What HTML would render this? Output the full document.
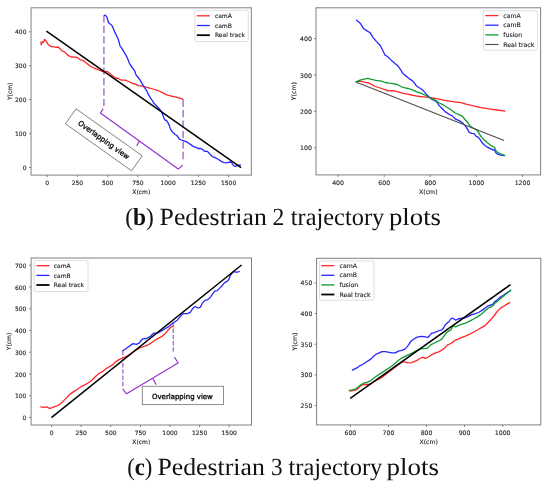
<!DOCTYPE html>
<html><head><meta charset="utf-8"><title>Pedestrian trajectory plots</title>
<style>
html,body{margin:0;padding:0;background:#fff;}
body{width:550px;height:488px;overflow:hidden;position:relative;}
svg{position:absolute;left:0;top:0;}
.t{font-family:"DejaVu Sans", "Liberation Sans", sans-serif;font-size:6.0px;fill:#222222;stroke:#222222;stroke-width:0.12px;}
.t2{font-family:"DejaVu Sans", "Liberation Sans", sans-serif;font-size:6.2px;fill:#222222;stroke:#222222;stroke-width:0.12px;}
.ov{font-family:"DejaVu Sans", "Liberation Sans", sans-serif;font-size:7.2px;fill:#111;stroke:#111;stroke-width:0.35px;}
.cap{font-family:"Liberation Serif","DejaVu Serif",serif;font-size:24.7px;fill:#111;}
text{text-rendering:geometricPrecision;}
</style></head>
<body>
<svg width="550" height="488" viewBox="0 0 550 488">
<rect x="31.05" y="7.8" width="220.25" height="167.29999999999998" fill="none" stroke="#808080" stroke-width="1"/>
<line x1="47.2" y1="175.1" x2="47.2" y2="177.1" stroke="#808080" stroke-width="1"/>
<text x="47.2" y="184.6" text-anchor="middle" class="t">0</text>
<line x1="77.4" y1="175.1" x2="77.4" y2="177.1" stroke="#808080" stroke-width="1"/>
<text x="77.4" y="184.6" text-anchor="middle" class="t">250</text>
<line x1="107.7" y1="175.1" x2="107.7" y2="177.1" stroke="#808080" stroke-width="1"/>
<text x="107.7" y="184.6" text-anchor="middle" class="t">500</text>
<line x1="137.9" y1="175.1" x2="137.9" y2="177.1" stroke="#808080" stroke-width="1"/>
<text x="137.9" y="184.6" text-anchor="middle" class="t">750</text>
<line x1="168.1" y1="175.1" x2="168.1" y2="177.1" stroke="#808080" stroke-width="1"/>
<text x="168.1" y="184.6" text-anchor="middle" class="t">1000</text>
<line x1="198.3" y1="175.1" x2="198.3" y2="177.1" stroke="#808080" stroke-width="1"/>
<text x="198.3" y="184.6" text-anchor="middle" class="t">1250</text>
<line x1="228.6" y1="175.1" x2="228.6" y2="177.1" stroke="#808080" stroke-width="1"/>
<text x="228.6" y="184.6" text-anchor="middle" class="t">1500</text>
<line x1="29.05" y1="167.5" x2="31.05" y2="167.5" stroke="#808080" stroke-width="1"/>
<text x="26.5" y="170.0" text-anchor="end" class="t">0</text>
<line x1="29.05" y1="133.6" x2="31.05" y2="133.6" stroke="#808080" stroke-width="1"/>
<text x="26.5" y="136.1" text-anchor="end" class="t">100</text>
<line x1="29.05" y1="99.6" x2="31.05" y2="99.6" stroke="#808080" stroke-width="1"/>
<text x="26.5" y="102.1" text-anchor="end" class="t">200</text>
<line x1="29.05" y1="65.7" x2="31.05" y2="65.7" stroke="#808080" stroke-width="1"/>
<text x="26.5" y="68.2" text-anchor="end" class="t">300</text>
<line x1="29.05" y1="31.8" x2="31.05" y2="31.8" stroke="#808080" stroke-width="1"/>
<text x="26.5" y="34.3" text-anchor="end" class="t">400</text>
<text x="141.3" y="193.6" text-anchor="middle" class="t">X(cm)</text>
<text transform="translate(11.9,91.3) rotate(-90)" x="0" y="0" text-anchor="middle" class="t">Y(cm)</text>
<line x1="103.9" y1="15.3" x2="103.9" y2="106" stroke="#aa7fd0" stroke-width="1.6" stroke-dasharray="7.3 3.15"/>
<line x1="183.1" y1="99.6" x2="183.1" y2="161" stroke="#aa7fd0" stroke-width="1.6" stroke-dasharray="7.3 3.15"/>
<polyline points="40.9,42.5 41.3,44.8 42.0,41.7 43.0,42.6 43.8,41.8 44.6,39.3 45.4,40.2 46.7,42.2 48.3,44.7 50.3,45.9 52.0,47.0 53.6,46.5 55.7,47.3 58.1,47.0 59.8,48.4 62.2,51.2 64.3,51.6 66.3,53.7 68.4,55.7 71.2,57.0 74.5,57.2 77.3,57.5 80.2,59.8 83.5,60.7 86.3,63.1 90.0,66.0 94.1,68.2 98.2,69.7 102.3,71.5 104.8,71.7 107.2,71.5 110.2,73.8 113.5,76.5 116.4,78.5 118.0,78.2 121.3,80.2 125.4,80.2 128.7,81.5 131.9,83.1 136.0,84.3 138.0,85.6 141.3,85.9 144.6,86.7 148.7,87.8 152.8,89.0 156.9,90.2 160.1,91.5 163.4,93.1 166.7,94.8 170.8,96.0 174.9,96.8 178.0,97.6 182.8,99.2" fill="none" stroke="#ff2626" stroke-width="1.3" stroke-linejoin="round" stroke-linecap="round" />
<polyline points="104.5,15.3 105.3,15.1 106.6,16.6 107.5,19.0 108.6,22.7 110.2,23.9 112.3,26.0 113.5,28.9 114.8,32.1 116.4,35.4 118.0,38.7 119.3,42.8 120.1,46.1 121.7,48.1 123.7,51.6 125.8,54.8 127.4,58.1 129.1,62.6 130.7,65.5 132.8,68.4 134.8,71.2 136.0,74.9 137.7,77.0 139.7,79.4 141.4,82.3 143.7,86.6 145.8,89.4 147.4,92.3 148.7,95.2 150.3,97.6 152.3,100.5 154.4,103.8 156.9,106.2 159.3,108.7 161.4,111.6 162.6,114.4 163.7,117.5 164.9,119.9 166.6,120.7 167.8,122.4 169.0,124.8 169.8,127.3 171.1,130.2 172.7,132.2 174.8,134.3 176.8,135.5 178.0,137.1 179.3,139.2 181.3,140.0 183.8,140.8 186.2,141.6 188.7,143.3 191.1,144.9 193.6,146.6 196.1,147.4 198.0,148.5 200.6,148.3 202.8,149.8 204.5,151.3 207.2,151.3 209.3,153.3 211.5,155.9 213.7,157.2 216.3,158.2 218.9,159.8 221.6,161.6 224.2,162.6 225.9,162.9 228.1,162.3 230.3,162.0 231.6,162.3 232.5,164.2 233.8,165.9 235.5,166.4 237.3,165.5 239.0,165.2 240.3,165.0" fill="none" stroke="#2626ff" stroke-width="1.3" stroke-linejoin="round" stroke-linecap="round" />
<line x1="46.4" y1="31.2" x2="241.1" y2="167.6" stroke="#000000" stroke-width="1.5" stroke-linecap="butt"/>
<polyline points="102.9,109.1 100.4,113.0 178.2,169.1 182.5,165.4" fill="none" stroke="#9932CC" stroke-width="1.2" stroke-linejoin="round" stroke-linecap="round" stroke-linecap="butt"/>
<polyline points="139.3,141.1 137.0,145.6" fill="none" stroke="#9932CC" stroke-width="1.2" stroke-linejoin="round" stroke-linecap="round" stroke-linecap="butt"/>
<g transform="translate(103.8,139.8) rotate(35.4)">
<rect x="-40.6" y="-9.2" width="81.2" height="18.4" fill="#fff" stroke="#808080" stroke-width="0.9"/>
<text x="-30.4" y="2.5" class="ov" textLength="60.8" lengthAdjust="spacingAndGlyphs">Overlapping view</text>
</g>
<rect x="194.9" y="10.3" width="53.400000000000006" height="31.2" rx="1.5" fill="#fff" fill-opacity="0.8" stroke="#d6d6d6" stroke-width="0.8"/>
<line x1="196.8" y1="15.8" x2="209.8" y2="15.8" stroke="#ff2626" stroke-width="1.3"/>
<text x="214.9" y="17.9" class="t">camA</text>
<line x1="196.8" y1="25.5" x2="209.8" y2="25.5" stroke="#2626ff" stroke-width="1.3"/>
<text x="214.9" y="27.6" class="t">camB</text>
<line x1="196.8" y1="35.2" x2="209.8" y2="35.2" stroke="#000000" stroke-width="1.8"/>
<text x="214.9" y="37.3" class="t">Real track</text>
<rect x="316" y="7.8" width="224.60000000000002" height="167.1" fill="none" stroke="#808080" stroke-width="1"/>
<line x1="338.1" y1="174.9" x2="338.1" y2="176.9" stroke="#808080" stroke-width="1"/>
<text x="338.1" y="184.6" text-anchor="middle" class="t2">400</text>
<line x1="384.2" y1="174.9" x2="384.2" y2="176.9" stroke="#808080" stroke-width="1"/>
<text x="384.2" y="184.6" text-anchor="middle" class="t2">600</text>
<line x1="430.3" y1="174.9" x2="430.3" y2="176.9" stroke="#808080" stroke-width="1"/>
<text x="430.3" y="184.6" text-anchor="middle" class="t2">800</text>
<line x1="476.4" y1="174.9" x2="476.4" y2="176.9" stroke="#808080" stroke-width="1"/>
<text x="476.4" y="184.6" text-anchor="middle" class="t2">1000</text>
<line x1="522.5" y1="174.9" x2="522.5" y2="176.9" stroke="#808080" stroke-width="1"/>
<text x="522.5" y="184.6" text-anchor="middle" class="t2">1200</text>
<line x1="314" y1="147.7" x2="316" y2="147.7" stroke="#808080" stroke-width="1"/>
<text x="311.9" y="150.2" text-anchor="end" class="t2">100</text>
<line x1="314" y1="111.3" x2="316" y2="111.3" stroke="#808080" stroke-width="1"/>
<text x="311.9" y="113.8" text-anchor="end" class="t2">200</text>
<line x1="314" y1="75.0" x2="316" y2="75.0" stroke="#808080" stroke-width="1"/>
<text x="311.9" y="77.5" text-anchor="end" class="t2">300</text>
<line x1="314" y1="38.6" x2="316" y2="38.6" stroke="#808080" stroke-width="1"/>
<text x="311.9" y="41.1" text-anchor="end" class="t2">400</text>
<text x="428.3" y="193.6" text-anchor="middle" class="t2">X(cm)</text>
<text transform="translate(295.5,91.2) rotate(-90)" x="0" y="0" text-anchor="middle" class="t2">Y(cm)</text>
<polyline points="356.0,81.8 360.0,81.2 364.3,82.2 368.7,83.0 371.5,84.4 375.1,86.5 380.1,88.0 385.0,89.6 388.1,90.9 392.2,90.7 395.2,91.1 399.3,92.1 403.4,93.4 407.5,94.1 411.6,95.0 415.7,95.8 419.8,96.5 423.9,96.8 429.3,97.5 436.5,98.7 443.7,100.1 450.9,101.3 458.0,102.3 460.0,102.3 466.1,104.1 472.3,105.7 480.9,107.6 490.7,109.1 496.9,110.0 504.9,111.1" fill="none" stroke="#ff2626" stroke-width="1.3" stroke-linejoin="round" stroke-linecap="round" />
<polyline points="356.5,20.3 360.0,22.9 363.6,28.7 365.8,30.1 370.1,32.7 373.0,37.3 376.5,41.6 380.1,45.2 382.3,49.5 385.1,55.2 386.0,55.5 389.1,58.1 392.2,61.1 395.2,63.7 397.8,65.8 400.4,69.3 402.9,73.4 406.0,76.0 409.1,78.6 412.2,80.6 414.2,82.7 416.2,85.7 419.3,87.8 422.4,89.8 424.4,91.9 426.5,94.4 429.1,97.0 432.2,99.4 436.5,101.6 439.4,105.9 442.3,108.7 445.1,111.6 449.4,114.5 452.3,115.9 455.2,118.8 459.5,120.9 463.1,123.4 466.1,126.9 469.2,132.4 471.7,133.3 474.1,133.7 476.0,136.1 478.4,137.3 480.3,139.8 481.6,142.3 484.1,144.8 487.4,147.2 490.7,148.9 493.5,150.1 494.8,149.7 495.2,151.7 496.4,153.4 498.9,154.6 502.1,155.4 504.6,155.6" fill="none" stroke="#2626ff" stroke-width="1.3" stroke-linejoin="round" stroke-linecap="round" />
<polyline points="356.0,81.8 360.0,80.1 364.3,79.1 367.9,78.4 371.5,79.4 375.8,80.4 381.6,81.2 385.0,82.5 389.1,83.2 393.2,83.7 397.3,84.5 401.4,86.8 405.5,88.0 409.6,88.8 413.7,90.3 416.8,91.9 420.9,93.1 425.0,95.0 428.0,96.8 431.1,98.5 435.1,100.1 439.4,103.0 443.7,105.2 449.4,108.7 455.2,113.0 460.0,115.2 462.5,116.4 464.9,119.5 467.4,122.2 469.8,125.7 472.3,127.5 475.4,129.3 477.8,131.2 480.0,134.9 481.6,137.4 484.1,139.8 487.4,142.7 490.7,145.2 493.1,146.8 494.6,147.2 495.2,148.9 496.0,150.9 498.0,152.5 501.3,154.2 504.6,155.4" fill="none" stroke="#109a30" stroke-width="1.3" stroke-linejoin="round" stroke-linecap="round" />
<line x1="356.5" y1="82.2" x2="504.1" y2="140.4" stroke="#4d4d4d" stroke-width="1.1"/>
<rect x="483.3" y="10.7" width="54.099999999999966" height="39.5" rx="1.5" fill="#fff" fill-opacity="0.8" stroke="#d6d6d6" stroke-width="0.8"/>
<line x1="485.2" y1="15.6" x2="498.5" y2="15.6" stroke="#ff2626" stroke-width="1.3"/>
<text x="503.3" y="17.7" class="t2">camA</text>
<line x1="485.2" y1="25.2" x2="498.5" y2="25.2" stroke="#2626ff" stroke-width="1.3"/>
<text x="503.3" y="27.3" class="t2">camB</text>
<line x1="485.2" y1="34.9" x2="498.5" y2="34.9" stroke="#109a30" stroke-width="1.3"/>
<text x="503.3" y="37.0" class="t2">fusion</text>
<line x1="485.2" y1="44.5" x2="498.5" y2="44.5" stroke="#4d4d4d" stroke-width="1.1"/>
<text x="503.3" y="46.6" class="t2">Real track</text>
<rect x="31.1" y="258" width="220.4" height="167" fill="none" stroke="#808080" stroke-width="1"/>
<line x1="51.6" y1="425" x2="51.6" y2="427" stroke="#808080" stroke-width="1"/>
<text x="51.6" y="434.5" text-anchor="middle" class="t">0</text>
<line x1="81.2" y1="425" x2="81.2" y2="427" stroke="#808080" stroke-width="1"/>
<text x="81.2" y="434.5" text-anchor="middle" class="t">250</text>
<line x1="110.8" y1="425" x2="110.8" y2="427" stroke="#808080" stroke-width="1"/>
<text x="110.8" y="434.5" text-anchor="middle" class="t">500</text>
<line x1="140.4" y1="425" x2="140.4" y2="427" stroke="#808080" stroke-width="1"/>
<text x="140.4" y="434.5" text-anchor="middle" class="t">750</text>
<line x1="170.0" y1="425" x2="170.0" y2="427" stroke="#808080" stroke-width="1"/>
<text x="170.0" y="434.5" text-anchor="middle" class="t">1000</text>
<line x1="199.6" y1="425" x2="199.6" y2="427" stroke="#808080" stroke-width="1"/>
<text x="199.6" y="434.5" text-anchor="middle" class="t">1250</text>
<line x1="229.2" y1="425" x2="229.2" y2="427" stroke="#808080" stroke-width="1"/>
<text x="229.2" y="434.5" text-anchor="middle" class="t">1500</text>
<line x1="29.1" y1="417.5" x2="31.1" y2="417.5" stroke="#808080" stroke-width="1"/>
<text x="26.4" y="420.0" text-anchor="end" class="t">0</text>
<line x1="29.1" y1="395.8" x2="31.1" y2="395.8" stroke="#808080" stroke-width="1"/>
<text x="26.4" y="398.2" text-anchor="end" class="t">100</text>
<line x1="29.1" y1="374.0" x2="31.1" y2="374.0" stroke="#808080" stroke-width="1"/>
<text x="26.4" y="376.5" text-anchor="end" class="t">200</text>
<line x1="29.1" y1="352.2" x2="31.1" y2="352.2" stroke="#808080" stroke-width="1"/>
<text x="26.4" y="354.8" text-anchor="end" class="t">300</text>
<line x1="29.1" y1="330.5" x2="31.1" y2="330.5" stroke="#808080" stroke-width="1"/>
<text x="26.4" y="333.0" text-anchor="end" class="t">400</text>
<line x1="29.1" y1="308.8" x2="31.1" y2="308.8" stroke="#808080" stroke-width="1"/>
<text x="26.4" y="311.2" text-anchor="end" class="t">500</text>
<line x1="29.1" y1="287.0" x2="31.1" y2="287.0" stroke="#808080" stroke-width="1"/>
<text x="26.4" y="289.5" text-anchor="end" class="t">600</text>
<line x1="29.1" y1="265.2" x2="31.1" y2="265.2" stroke="#808080" stroke-width="1"/>
<text x="26.4" y="267.8" text-anchor="end" class="t">700</text>
<text x="141.3" y="443.6" text-anchor="middle" class="t">X(cm)</text>
<text transform="translate(11.4,341.5) rotate(-90)" x="0" y="0" text-anchor="middle" class="t">Y(cm)</text>
<line x1="122.8" y1="350.6" x2="122.8" y2="387" stroke="#aa7fd0" stroke-width="1.5" stroke-dasharray="4.5 1.75"/>
<line x1="173.3" y1="322.2" x2="173.3" y2="352" stroke="#aa7fd0" stroke-width="1.5" stroke-dasharray="4.5 1.75"/>
<polyline points="40.7,406.9 43.6,407.3 46.5,406.9 49.5,408.4 51.6,407.9 54.5,406.6 58.2,405.5 61.1,403.3 64.0,400.4 66.9,397.5 70.0,394.1 73.7,391.6 77.4,389.2 81.1,386.7 84.8,384.9 88.4,382.8 92.1,380.0 95.8,376.3 99.5,373.0 102.6,371.7 105.7,368.9 109.3,366.8 113.0,364.6 115.0,362.3 119.3,359.4 122.9,358.0 126.5,356.4 130.8,353.8 135.1,350.6 140.1,347.6 144.3,346.3 148.6,344.6 152.9,341.7 157.2,338.8 161.5,336.7 165.1,333.8 168.0,330.2 170.8,327.3 173.3,326.2" fill="none" stroke="#ff2626" stroke-width="1.3" stroke-linejoin="round" stroke-linecap="round" />
<polyline points="122.9,350.8 127.9,347.2 132.9,343.6 136.5,344.3 139.4,342.9 141.5,340.0 142.9,338.8 146.5,338.5 150.0,336.7 153.6,333.1 157.2,333.1 161.5,330.9 165.1,328.8 168.7,326.6 173.0,323.0 177.3,320.2 180.2,316.6 183.0,313.7 187.3,313.7 190.2,312.3 193.1,308.0 195.2,306.5 198.1,308.0 200.3,307.3 202.5,302.9 204.9,300.4 207.4,299.8 209.8,298.0 212.3,294.3 214.8,291.2 217.2,290.6 219.7,288.1 222.1,285.7 224.6,282.6 227.1,281.4 228.9,279.5 230.1,275.8 232.0,273.4 233.8,271.5 235.7,272.1 237.5,272.1 239.3,271.5" fill="none" stroke="#2626ff" stroke-width="1.3" stroke-linejoin="round" stroke-linecap="round" />
<line x1="51.4" y1="417.6" x2="241.6" y2="265.0" stroke="#000000" stroke-width="1.5"/>
<polyline points="122.9,389.0 126.5,393.8 178.1,363.0 174.7,357.5" fill="none" stroke="#9932CC" stroke-width="1.2" stroke-linejoin="round" stroke-linecap="round" stroke-linecap="butt"/>
<polyline points="153.2,378.9 155.9,384.3" fill="none" stroke="#9932CC" stroke-width="1.2" stroke-linejoin="round" stroke-linecap="round" stroke-linecap="butt"/>
<rect x="142.3" y="386.3" width="81.2" height="18.3" fill="#fff" stroke="#808080" stroke-width="0.9"/>
<text x="152.0" y="398.9" class="ov" textLength="60.8" lengthAdjust="spacingAndGlyphs">Overlapping view</text>
<rect x="34.2" y="260.6" width="53.8" height="30.899999999999977" rx="1.5" fill="#fff" fill-opacity="0.8" stroke="#d6d6d6" stroke-width="0.8"/>
<line x1="36.4" y1="265.7" x2="49.5" y2="265.7" stroke="#ff2626" stroke-width="1.3"/>
<text x="53.8" y="267.8" class="t">camA</text>
<line x1="36.4" y1="275.4" x2="49.5" y2="275.4" stroke="#2626ff" stroke-width="1.3"/>
<text x="53.8" y="277.5" class="t">camB</text>
<line x1="36.4" y1="285.0" x2="49.5" y2="285.0" stroke="#000000" stroke-width="1.8"/>
<text x="53.8" y="287.1" class="t">Real track</text>
<rect x="316.6" y="258.3" width="224.19999999999993" height="166.59999999999997" fill="none" stroke="#808080" stroke-width="1"/>
<line x1="350.4" y1="424.9" x2="350.4" y2="426.9" stroke="#808080" stroke-width="1"/>
<text x="350.4" y="434.5" text-anchor="middle" class="t2">600</text>
<line x1="388.5" y1="424.9" x2="388.5" y2="426.9" stroke="#808080" stroke-width="1"/>
<text x="388.5" y="434.5" text-anchor="middle" class="t2">700</text>
<line x1="426.6" y1="424.9" x2="426.6" y2="426.9" stroke="#808080" stroke-width="1"/>
<text x="426.6" y="434.5" text-anchor="middle" class="t2">800</text>
<line x1="464.6" y1="424.9" x2="464.6" y2="426.9" stroke="#808080" stroke-width="1"/>
<text x="464.6" y="434.5" text-anchor="middle" class="t2">900</text>
<line x1="502.7" y1="424.9" x2="502.7" y2="426.9" stroke="#808080" stroke-width="1"/>
<text x="502.7" y="434.5" text-anchor="middle" class="t2">1000</text>
<line x1="314.6" y1="405.6" x2="316.6" y2="405.6" stroke="#808080" stroke-width="1"/>
<text x="312.4" y="408.1" text-anchor="end" class="t2">250</text>
<line x1="314.6" y1="374.9" x2="316.6" y2="374.9" stroke="#808080" stroke-width="1"/>
<text x="312.4" y="377.4" text-anchor="end" class="t2">300</text>
<line x1="314.6" y1="344.2" x2="316.6" y2="344.2" stroke="#808080" stroke-width="1"/>
<text x="312.4" y="346.7" text-anchor="end" class="t2">350</text>
<line x1="314.6" y1="313.6" x2="316.6" y2="313.6" stroke="#808080" stroke-width="1"/>
<text x="312.4" y="316.1" text-anchor="end" class="t2">400</text>
<line x1="314.6" y1="282.9" x2="316.6" y2="282.9" stroke="#808080" stroke-width="1"/>
<text x="312.4" y="285.4" text-anchor="end" class="t2">450</text>
<text x="428.7" y="443.6" text-anchor="middle" class="t2">X(cm)</text>
<text transform="translate(296.6,341.6) rotate(-90)" x="0" y="0" text-anchor="middle" class="t2">Y(cm)</text>
<polyline points="349.9,391.0 353.6,390.4 356.7,389.8 359.1,387.3 361.6,385.2 364.7,384.5 368.4,384.5 370.8,383.6 374.5,381.2 378.2,379.3 381.9,377.5 385.6,374.4 389.3,371.4 393.0,368.9 395.0,367.1 397.5,365.5 399.9,363.4 402.8,361.8 405.7,362.2 408.1,362.9 411.4,362.6 414.7,361.4 418.0,359.8 421.2,357.7 423.3,357.3 425.3,358.3 427.8,357.3 431.1,355.2 435.0,353.2 439.3,351.6 443.0,349.2 445.0,347.7 447.5,344.8 449.9,344.0 452.4,342.4 454.8,340.3 458.1,339.1 461.4,337.7 465.5,336.1 469.6,334.2 473.7,332.0 477.8,329.7 481.9,327.4 485.0,325.6 487.0,323.5 490.7,319.8 494.3,315.5 497.4,311.2 500.5,308.1 503.6,306.3 506.6,304.4 509.7,302.6" fill="none" stroke="#ff2626" stroke-width="1.3" stroke-linejoin="round" stroke-linecap="round" />
<polyline points="352.4,370.1 354.8,368.9 357.3,367.7 359.8,365.8 363.4,364.0 367.1,361.5 370.8,359.1 373.9,356.0 376.4,354.1 379.4,352.9 381.9,351.7 385.6,351.7 389.3,352.3 392.3,352.9 395.4,352.9 398.3,351.1 401.6,350.3 404.8,349.1 407.3,346.6 408.6,344.9 410.5,341.8 413.5,339.3 417.2,337.1 420.9,336.3 424.6,336.6 427.7,337.5 429.5,335.7 431.4,333.4 434.4,332.6 438.1,331.0 441.8,329.8 443.6,328.0 445.0,325.2 447.5,322.7 449.1,321.5 450.7,319.0 452.4,318.2 454.0,319.0 455.7,320.2 458.1,319.0 461.4,318.2 464.7,317.8 468.0,316.6 471.2,314.9 475.3,313.7 478.6,312.5 481.9,310.4 484.5,308.6 488.0,305.8 491.2,305.0 493.3,303.7 494.7,301.6 496.5,300.5 498.7,298.7 500.8,296.5 502.9,295.5 504.0,294.9 506.6,293.1 509.3,291.2 510.6,290.2" fill="none" stroke="#2626ff" stroke-width="1.3" stroke-linejoin="round" stroke-linecap="round" />
<polyline points="349.3,390.4 352.4,389.8 356.1,388.6 358.5,386.7 361.0,384.5 364.1,383.0 367.1,382.4 370.8,380.6 374.5,377.5 378.2,375.0 381.9,372.6 385.6,370.1 389.3,367.7 393.0,365.2 395.0,363.4 398.3,360.6 401.6,358.1 405.7,356.1 409.8,354.2 413.9,352.0 418.0,349.9 422.0,348.3 425.3,348.7 427.8,347.9 430.7,344.9 434.4,343.0 438.1,341.2 441.8,339.1 445.0,334.6 446.6,332.5 449.1,330.9 451.1,329.7 452.4,327.2 453.2,326.0 455.7,326.8 458.1,325.6 461.4,324.3 465.5,323.1 469.6,321.1 473.7,319.0 477.8,316.6 481.9,313.7 484.5,311.2 488.0,308.2 491.2,306.9 493.3,305.3 494.9,303.2 497.1,301.6 499.2,299.5 501.3,297.9 504.0,295.7 506.6,293.6 509.3,291.5 510.6,290.4" fill="none" stroke="#109a30" stroke-width="1.3" stroke-linejoin="round" stroke-linecap="round" />
<line x1="350.2" y1="398.4" x2="510.6" y2="284.6" stroke="#000000" stroke-width="1.5"/>
<rect x="319.5" y="260.9" width="54.5" height="39.30000000000001" rx="1.5" fill="#fff" fill-opacity="0.8" stroke="#d6d6d6" stroke-width="0.8"/>
<line x1="321.3" y1="265.7" x2="334.4" y2="265.7" stroke="#ff2626" stroke-width="1.3"/>
<text x="339.5" y="267.8" class="t2">camA</text>
<line x1="321.3" y1="275.3" x2="334.4" y2="275.3" stroke="#2626ff" stroke-width="1.3"/>
<text x="339.5" y="277.4" class="t2">camB</text>
<line x1="321.3" y1="284.9" x2="334.4" y2="284.9" stroke="#109a30" stroke-width="1.3"/>
<text x="339.5" y="287.0" class="t2">fusion</text>
<line x1="321.3" y1="294.5" x2="334.4" y2="294.5" stroke="#000000" stroke-width="1.8"/>
<text x="339.5" y="296.6" class="t2">Real track</text>
<text x="125.2" y="224.5" class="cap" textLength="28.6" lengthAdjust="spacingAndGlyphs">(<tspan font-weight="bold">b</tspan>)</text>
<text x="159.6" y="224.5" class="cap" textLength="107.2" lengthAdjust="spacingAndGlyphs">Pedestrian</text>
<text x="272.6" y="224.5" class="cap" textLength="11.8" lengthAdjust="spacingAndGlyphs">2</text>
<text x="290.8" y="224.5" class="cap" textLength="93.4" lengthAdjust="spacingAndGlyphs">trajectory</text>
<text x="389.0" y="224.5" class="cap" textLength="52.0" lengthAdjust="spacingAndGlyphs">plots</text>
<text x="127.2" y="474.5" class="cap" textLength="25.2" lengthAdjust="spacingAndGlyphs">(<tspan font-weight="bold">c</tspan>)</text>
<text x="157.4" y="474.5" class="cap" textLength="107.4" lengthAdjust="spacingAndGlyphs">Pedestrian</text>
<text x="271.0" y="474.5" class="cap" textLength="11.6" lengthAdjust="spacingAndGlyphs">3</text>
<text x="288.4" y="474.5" class="cap" textLength="94.0" lengthAdjust="spacingAndGlyphs">trajectory</text>
<text x="386.6" y="474.5" class="cap" textLength="52.4" lengthAdjust="spacingAndGlyphs">plots</text>
</svg>
</body></html>
